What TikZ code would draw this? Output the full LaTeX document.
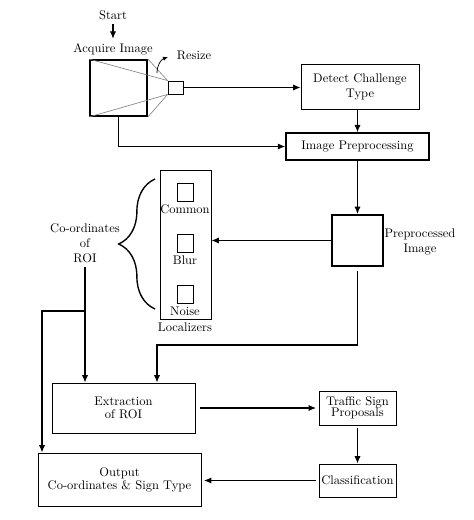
\documentclass[tikz,border=0pt]{standalone}
\usetikzlibrary{arrows.meta,decorations.pathreplacing}

\tikzset{
	box/.style={draw,inner sep=0pt,align=center,line width=0.7pt},
	thickbox/.style={box,line width=1.5pt},
	link/.style={-{Latex[length=6pt,width=5pt]},line width=0.9pt},
	label/.style={inner sep=0pt,align=center},
}

\begin{document}
\begin{tikzpicture}[x=0.8pt,y=-0.8pt]

\useasboundingbox (0,0) rectangle (474,520);

% acquisition
\node (start) at (113,15) {Start};
\node (acqlabel) at (113,49) {Acquire Image};
\draw [link] (start) -- (start |- acqlabel.north);

\node [thickbox,minimum width=45.6pt,minimum height=44.8pt] (acq) at (118.5,88) {};
\node [box,minimum width=12pt,minimum height=10.4pt] (rs) at (175.5,87.5) {};
\draw [gray,line width=0.5pt] (acq.north west) -- (rs.north west);
\draw [gray,line width=0.5pt] (acq.south west) -- (rs.south west);
\draw [gray,line width=0.5pt] (acq.north east) -- (rs.north west);
\draw [gray,line width=0.5pt] (acq.south east) -- (rs.south west);

% resize
\coordinate (rsa) at (157,73);
\coordinate (rsb) at (168,57);
\draw [-{Latex[length=4pt,width=3.5pt]},line width=0.6pt] (rsa) to[out=90,in=200] (rsb);
\node (rslabel) at (194,55) {Resize};

% challenge type and preprocessing
\node [box,minimum width=94.4pt,minimum height=36pt] (detect) at (360,86.5) {Detect Challenge\\Type};
\node [thickbox,line width=1.2pt,minimum width=114.4pt,minimum height=21.6pt] (prep) at (357.5,146.5) {Image Preprocessing};
\draw [link] (rs.east) -- (rs.east -| detect.west);
\draw [link] (detect.south -| prep.north) -- (prep.north);
\draw [link] (acq.south) |- (prep.west);

\node [thickbox,minimum width=40.8pt,minimum height=40.8pt] (pim) at (357.5,240.5) {};
\node [label] (pimlabel) at (420,242) {Preprocessed\\Image};
\draw [link] (prep.south) -- (pim.north);

% localizers
\node [box,minimum width=40.8pt,minimum height=119.2pt] (loc) at (185.5,244.5) {};
\node [label] (loclabel) at (185,327) {Localizers};
\foreach \y/\name/\txt in {192.5/cbox/Common,243/bbox/Blur,294/nbox/Noise} {
	\node [box,minimum width=12.8pt,minimum height=14.4pt] (\name) at (185,\y) {};
	\node [label] (\name-label) at (185,\y+17) {\txt};
}
\draw [link] (pim.west) -- (pim.west -| loc.east);

% co-ordinates of the regions
\draw [decorate,decoration={brace,amplitude=29pt},line width=1.1pt] (155,309) -- (155,179);
\node [align=center] (roi) at (85,243) {Co-ordinates\\of\\ROI};

% extraction and classification
\node [box,minimum width=114.4pt,minimum height=40pt] (extr) at (123.5,408) {Extraction\\[-2pt]of ROI};
\node [box,minimum width=61.6pt,minimum height=27.2pt] (tsp) at (357.5,408) {Traffic Sign\\[-3pt]Proposals};
\node [box,minimum width=61.6pt,minimum height=26.4pt] (cls) at (357.5,480.5) {Classification};
\node [box,minimum width=130.4pt,minimum height=42.4pt] (out) at (119.5,479.5) {Output\\[-1.5pt]Co-ordinates \& Sign Type};

\draw [link] (roi.south) -- (roi.south |- extr.north);
\coordinate (roibr) at (85,311);
\coordinate (outin) at (42,311);
\draw [link] (roibr) -- (outin) -- (outin |- out.north);

\coordinate (elb) at (157,345);
\draw [link,shorten <=3pt] (pim.south) |- (elb) -- (elb |- extr.north);

\draw [link,shorten <=4pt,shorten >=2pt] (extr.east) -- (extr.east -| tsp.west);
\draw [link,shorten <=2pt] (tsp.south) -- (cls.north);
\draw [link,shorten <=2pt,shorten >=2pt] (cls.west) -- (cls.west -| out.east);

\end{tikzpicture}
\end{document}
